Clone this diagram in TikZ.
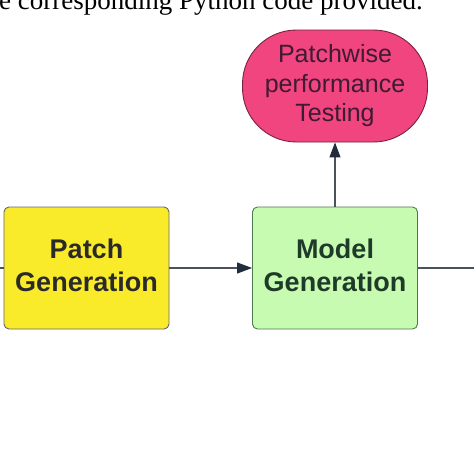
\documentclass[tikz,border=0pt]{standalone}
\usepackage{fontspec}
\setmainfont{Liberation Serif}
\setsansfont{Liberation Sans}
\usetikzlibrary{arrows.meta}
\definecolor{pyellow}{HTML}{FAEB2A}
\definecolor{pgreen}{HTML}{C8FBB2}
\definecolor{ppink}{HTML}{F0457E}
\definecolor{lnclr}{HTML}{4A525C}
\definecolor{tipclr}{HTML}{1F2D3D}
\definecolor{txtdark}{HTML}{2A2A2A}
\definecolor{txtgreen}{HTML}{1E3A28}
\definecolor{txtpurple}{HTML}{3E1A33}
\newcommand{\twolines}[2]{\raisebox{4pt}{\begin{tabular}{@{}c@{}}#1\\#2\end{tabular}}}
\tikzset{
  procbox/.style={draw=#1, line width=0.9pt, rounded corners=5pt, minimum width=165pt, minimum height=122pt, inner sep=0pt, font=\sffamily\bfseries\fontsize{27}{33}\selectfont},
  termbox/.style={draw=#1, line width=0.9pt, rounded corners=54pt, minimum width=185pt, minimum height=112pt, inner sep=0pt, align=center, font=\sffamily\fontsize{25}{29.5}\selectfont},
  conn/.style={draw=lnclr, line width=1.1pt},
  arr/.style={conn, -{Triangle[length=15pt,width=11pt,color=tipclr]}}
}
\begin{document}
\begin{tikzpicture}[x=1pt,y=-1pt]
\useasboundingbox (0,0) rectangle (474,474);
\fill[white] (0,0) rectangle (474,474);
\begin{scope}
\clip (0,0) rectangle (474,474);
\node[anchor=base west, inner sep=0pt, font=\fontsize{27}{30}\selectfont, text=black] (caption) at (-1,9) {e corresponding Python code provided.};
\end{scope}
\node[procbox=black!60, fill=pyellow, text=txtdark] (patch) at (86.5,268) {\twolines{Patch}{Generation}};
\node[procbox=black!55!green!40!gray, fill=pgreen, text=txtgreen] (model) at (335,268) {\twolines{Model}{Generation}};
\node[termbox=ppink!50!black, fill=ppink, text=txtpurple] (test) at (335,86) {Patchwise\\performance\\Testing};
\coordinate (leftin) at (0,268);
\coordinate (rightout) at (474,268);
\draw[conn] (leftin) -- (patch.west);
\draw[arr] (patch.east) -- (model.west);
\draw[arr] (model.north) -- (test.south);
\draw[conn] (model.east) -- (rightout);
\end{tikzpicture}
\end{document}
